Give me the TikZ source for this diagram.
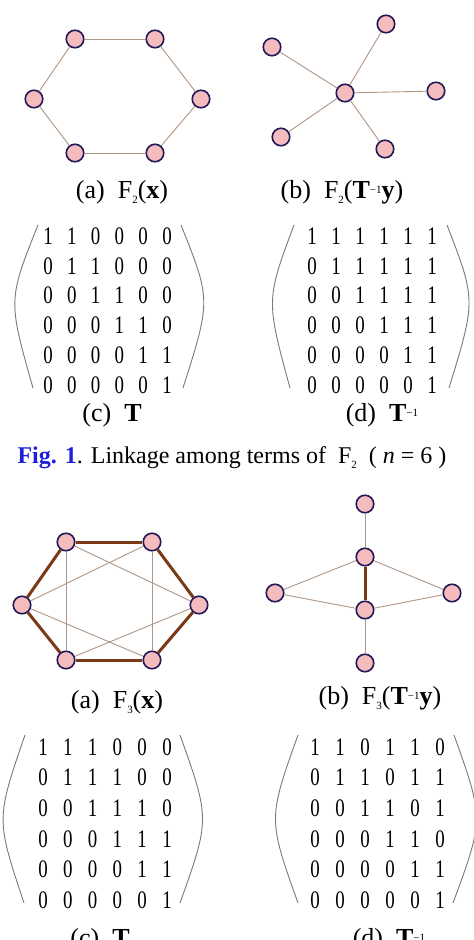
\documentclass[tikz,border=0pt]{standalone}
\usepackage{fontspec}
\setmainfont{Liberation Serif}
\definecolor{nodefill}{HTML}{F5BCBE}
\definecolor{nodeline}{HTML}{241858}
\definecolor{thincol}{HTML}{B09684}
\definecolor{thickcol}{HTML}{7A3A16}
\definecolor{parcol}{HTML}{7A7A7A}
\definecolor{figblue}{HTML}{1E1EDC}
\newcommand{\Fsub}[1]{F{\fontsize{11}{11}\selectfont\raisebox{-1.0ex}{#1}}}
\newcommand{\Tinv}{\textbf{T}{\fontsize{11}{11}\selectfont\raisebox{1.0ex}{−1}}}
\newcommand{\dg}[1]{\scalebox{0.9}[1.2]{#1}}
\tikzset{
  vtx/.style={circle,draw=nodeline,fill=nodefill,line width=1.6pt,minimum size=17.5pt,inner sep=0pt},
  lightlink/.style={draw=thincol,line width=0.9pt},
  heavylink/.style={draw=thickcol,line width=3pt},
  subcap/.style={font=\fontsize{26}{28}\selectfont,inner sep=0pt},
  digit/.style={font=\fontsize{21}{22}\selectfont,inner sep=0pt},
  paren/.style={draw=parcol,line width=0.9pt}
}
\begin{document}
\begin{tikzpicture}[x=1pt,y=-1pt]
\useasboundingbox[fill=white] (0,0) rectangle (474,940);

% ---------- Fig 1 (a) ----------
\node[vtx] (a1) at (75,39) {};
\node[vtx] (a2) at (155,39) {};
\node[vtx] (a3) at (201,99) {};
\node[vtx] (a4) at (155,153) {};
\node[vtx] (a5) at (75,153) {};
\node[vtx] (a6) at (34,99) {};
\draw[lightlink] (a1) -- (a2);
\draw[lightlink] (a2) -- (a3);
\draw[lightlink] (a3) -- (a4);
\draw[lightlink] (a4) -- (a5);
\draw[lightlink] (a5) -- (a6);
\draw[lightlink] (a6) -- (a1);
\node[subcap] (capa) at (122,192) {(a)\ \ \Fsub{2}(\textbf{x})};

% ---------- Fig 1 (b) ----------
\node[vtx] (b0) at (345,93) {};
\node[vtx] (b1) at (386,24) {};
\node[vtx] (b2) at (272,47) {};
\node[vtx] (b3) at (436,91) {};
\node[vtx] (b4) at (281,137) {};
\node[vtx] (b5) at (385,149) {};
\foreach \i in {1,...,5} { \draw[lightlink] (b0) -- (b\i); }
\node[subcap] (capb) at (342,192) {(b)\ \ \Fsub{2}(\Tinv\textbf{y})};

% ---------- Fig 1 (c) matrix ----------
\foreach \row [count=\r] in {{1,1,0,0,0,0},{0,1,1,0,0,0},{0,0,1,1,0,0},{0,0,0,1,1,0},{0,0,0,0,1,1},{0,0,0,0,0,1}} {
  \foreach \v [count=\c] in \row {
    \node[digit] (mc-\r-\c) at ({48+23.8*(\c-1)}, {236+29.8*(\r-1)}) {\dg{\v}};
  }
}
\coordinate (pcl1) at (38,225); \coordinate (pcl2) at (33,388);
\coordinate (pcr1) at (181,225); \coordinate (pcr2) at (183,388);
\draw[paren] (pcl1) .. controls (8,300) .. (pcl2);
\draw[paren] (pcr1) .. controls (211,300) .. (pcr2);
\node[subcap] (capc) at (112,415) {(c)\ \ \textbf{T}};

% ---------- Fig 1 (d) matrix ----------
\foreach \row [count=\r] in {{1,1,1,1,1,1},{0,1,1,1,1,1},{0,0,1,1,1,1},{0,0,0,1,1,1},{0,0,0,0,1,1},{0,0,0,0,0,1}} {
  \foreach \v [count=\c] in \row {
    \node[digit] (md-\r-\c) at ({312+24*(\c-1)}, {236+29.8*(\r-1)}) {\dg{\v}};
  }
}
\coordinate (pdl1) at (294,225); \coordinate (pdl2) at (290,388);
\coordinate (pdr1) at (447,225); \coordinate (pdr2) at (449,388);
\draw[paren] (pdl1) .. controls (266,300) .. (pdl2);
\draw[paren] (pdr1) .. controls (476,300) .. (pdr2);
\node[subcap] (capd) at (382,415) {(d)\ \ \Tinv};

% ---------- Fig 1 caption ----------
\node[inner sep=0pt,font=\fontsize{24}{26}\selectfont] (fig1) at (232,458)
  {\textcolor{figblue}{\textbf{Fig. 1}}. Linkage among terms of \ \Fsub{2}\ \ ( \textit{n} = 6 )};

% ---------- Fig 2 (a) ----------
\node[vtx] (c1) at (66,542) {};
\node[vtx] (c2) at (152,542) {};
\node[vtx] (c3) at (199,605) {};
\node[vtx] (c4) at (152,660) {};
\node[vtx] (c5) at (66,660) {};
\node[vtx] (c6) at (22,605) {};
\draw[lightlink] (c1) -- (c5);
\draw[lightlink] (c2) -- (c4);
\draw[lightlink] (c1) -- (c3);
\draw[lightlink] (c2) -- (c6);
\draw[lightlink] (c6) -- (c4);
\draw[lightlink] (c5) -- (c3);
\draw[heavylink] (c1) -- (c2);
\draw[heavylink] (c2) -- (c3);
\draw[heavylink] (c3) -- (c4);
\draw[heavylink] (c4) -- (c5);
\draw[heavylink] (c5) -- (c6);
\draw[heavylink] (c6) -- (c1);
\node[subcap] (cape) at (117,702) {(a)\ \ \Fsub{3}(\textbf{x})};

% ---------- Fig 2 (b) ----------
\node[vtx] (d1) at (365,504) {};
\node[vtx] (d2) at (365,557) {};
\node[vtx] (d3) at (275,593) {};
\node[vtx] (d4) at (452,593) {};
\node[vtx] (d5) at (365,610) {};
\node[vtx] (d6) at (365,663) {};
\draw[lightlink] (d1) -- (d2);
\draw[lightlink] (d2) -- (d3);
\draw[lightlink] (d2) -- (d4);
\draw[lightlink] (d5) -- (d3);
\draw[lightlink] (d5) -- (d4);
\draw[lightlink] (d5) -- (d6);
\draw[heavylink] (d2) -- (d5);
\node[subcap] (capf) at (380,698) {(b)\ \ \Fsub{3}(\Tinv\textbf{y})};

% ---------- Fig 2 (c) matrix ----------
\foreach \row [count=\r] in {{1,1,1,0,0,0},{0,1,1,1,0,0},{0,0,1,1,1,0},{0,0,0,1,1,1},{0,0,0,0,1,1},{0,0,0,0,0,1}} {
  \foreach \v [count=\c] in \row {
    \node[digit] (mg-\r-\c) at ({43+24.8*(\c-1)}, {747+30.6*(\r-1)}) {\dg{\v}};
  }
}
\coordinate (pgl1) at (25,735); \coordinate (pgl2) at (24,903);
\coordinate (pgr1) at (180,735); \coordinate (pgr2) at (180,903);
\draw[paren] (pgl1) .. controls (-4,819) .. (pgl2);
\draw[paren] (pgr1) .. controls (210,819) .. (pgr2);
\node[subcap] (capg) at (100,940) {(c)\ \ \textbf{T}};

% ---------- Fig 2 (d) matrix ----------
\foreach \row [count=\r] in {{1,1,0,1,1,0},{0,1,1,0,1,1},{0,0,1,1,0,1},{0,0,0,1,1,0},{0,0,0,0,1,1},{0,0,0,0,0,1}} {
  \foreach \v [count=\c] in \row {
    \node[digit] (mh-\r-\c) at ({315+25*(\c-1)}, {747+30.6*(\r-1)}) {\dg{\v}};
  }
}
\coordinate (phl1) at (298,735); \coordinate (phl2) at (298,903);
\coordinate (phr1) at (454,735); \coordinate (phr2) at (453,903);
\draw[paren] (phl1) .. controls (268,819) .. (phl2);
\draw[paren] (phr1) .. controls (484,819) .. (phr2);
\node[subcap] (caph) at (389,940) {(d)\ \ \Tinv};
\end{tikzpicture}
\end{document}
